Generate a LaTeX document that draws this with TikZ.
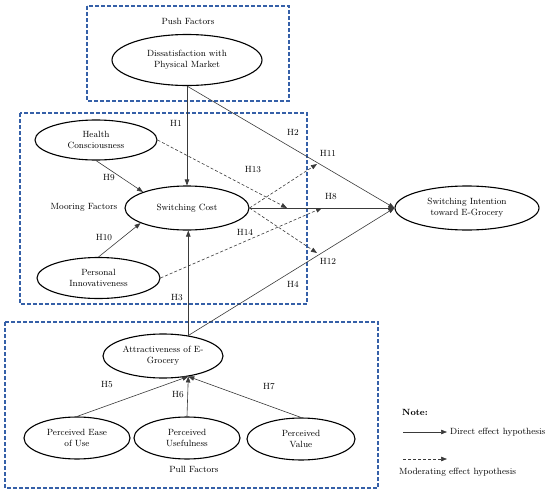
\documentclass[tikz,border=0pt]{standalone}
\usetikzlibrary{shapes.geometric,arrows.meta}
\definecolor{boxblue}{HTML}{3560A8}
\definecolor{lin}{HTML}{3A3A3A}
\begin{document}
\begin{tikzpicture}[x=1pt,y=-1pt,font=\fontsize{9}{11}\selectfont,
  ell/.style={ellipse,draw,line width=1.1pt,inner sep=0pt,align=center},
  fbox/.style={draw=boxblue,line width=1.2pt,dash pattern=on 4pt off 2pt},
  dir/.style={draw=lin,line width=0.6pt,-{Triangle[length=6pt,width=4.5pt]}},
  mod/.style={dir,dash pattern=on 3pt off 2pt},
  lab/.style={inner sep=1pt}]
\useasboundingbox (0,0) rectangle (550,493);
% boxes
\draw[fbox] (87,6) rectangle (289,101);
\draw[fbox] (20,113) rectangle (307,304);
\draw[fbox] (5,322) rectangle (378,488);
\node (push) at (188,21) {Push Factors};
\node (moor) at (84,207) {Mooring Factors};
\node (pull) at (194,469) {Pull Factors};
% nodes
\node[ell,minimum width=150,minimum height=51] (dis) at (187,60) {Dissatisfaction with\\Physical Market};
\node[ell,minimum width=122,minimum height=40] (hc) at (96,140) {Health\\Consciousness};
\node[ell,minimum width=124,minimum height=44] (sc) at (187,208) {Switching Cost};
\node[ell,minimum width=123,minimum height=41] (pi) at (98.5,278) {Personal\\Innovativeness};
\node[ell,minimum width=144,minimum height=44] (si) at (467,208) {Switching Intention\\toward E-Grocery};
\node[ell,minimum width=120,minimum height=44] (att) at (163,356) {Attractiveness of E-\\Grocery};
\node[ell,minimum width=106,minimum height=42] (peou) at (77,438) {Perceived Ease\\of Use};
\node[ell,minimum width=106,minimum height=42] (pu) at (187,438) {Perceived\\Usefulness};
\node[ell,minimum width=108,minimum height=42] (pv) at (301,439) {Perceived\\Value};
% direct
\draw[dir] (dis.south) -- (sc.north);
\draw[dir] (dis.south) -- (si.west);
\draw[dir] (hc.south) -- (sc.160);
\draw[dir] (pi.north) -- (sc.198);
\draw[dir] (sc.east) -- (si.west);
\draw[dir] (att.39) -- (att.39 |- sc.south);
\draw[dir] (att.39) -- (si.west);
\draw[dir] (peou.north) -- (att.-39);
\draw[dir] (pu.north) -- (att.-39);
\draw[dir] (pv.north) -- (att.-39);
% moderating
\coordinate (m13) at (287,208);
\coordinate (m14) at (322,208);
\coordinate (m11) at (317,164);
\coordinate (m12) at (317,253);
\draw[mod] (hc.east) -- (m13);
\draw[mod] (pi.east) -- (m14);
\draw[mod] (sc.east) -- (m11);
\draw[mod] (sc.east) -- (m12);
% labels
\node[lab] (h1) at (176,123) {H1};
\node[lab] (h2) at (293,132) {H2};
\node[lab] (h3) at (177,298) {H3};
\node[lab] (h4) at (293,284) {H4};
\node[lab] (h5) at (107,385) {H5};
\node[lab] (h6) at (178,395) {H6};
\node[lab] (h7) at (269,387) {H7};
\node[lab] (h8) at (331,197) {H8};
\node[lab] (h9) at (109,178) {H9};
\node[lab] (h10) at (104,238) {H10};
\node[lab] (h11) at (328,153) {H11};
\node[lab] (h12) at (328,261) {H12};
\node[lab] (h13) at (253,170) {H13};
\node[lab] (h14) at (245,232) {H14};
% legend
\node[anchor=west,inner sep=0pt,font=\fontsize{9}{11}\selectfont\bfseries] (note) at (402,412) {Note:};
\coordinate (la1) at (403,432);
\coordinate (la2) at (447,432);
\coordinate (lb1) at (403,459);
\coordinate (lb2) at (447,459);
\draw[dir] (la1) -- (la2);
\draw[mod] (lb1) -- (lb2);
\node[anchor=west,inner sep=0pt] (dt) at (450,432) {Direct effect hypothesis};
\node[anchor=west,inner sep=0pt] (mt) at (399,472) {Moderating effect hypothesis};
\end{tikzpicture}
\end{document}
